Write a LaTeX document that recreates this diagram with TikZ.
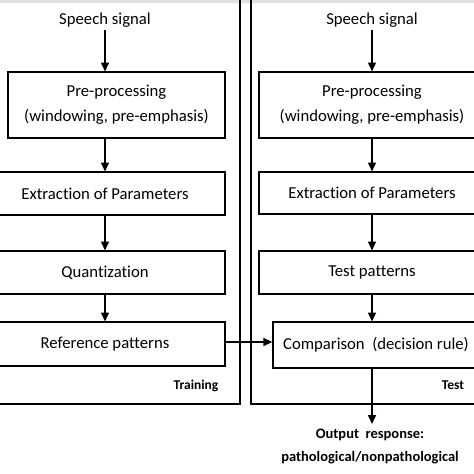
\documentclass[tikz,border=0pt]{standalone}
\usepackage{fontspec}
\setmainfont{Carlito}[RawFeature={-liga;-clig;-calt;-dlig}]
\usetikzlibrary{arrows.meta}
\begin{document}
\begin{tikzpicture}[x=1pt,y=-1pt,
  box/.style={draw,line width=1.3pt,inner sep=0pt,align=center,font=\fontsize{16.7}{25}\selectfont},
  lbl/.style={inner sep=0pt,align=center,font=\fontsize{16.7}{25}\selectfont},
  tag/.style={inner sep=0pt,font=\bfseries\fontsize{13.5}{16}\selectfont},
  frame/.style={draw,line width=1.3pt},
  arr/.style={line width=1.5pt,-{Triangle[length=9pt,width=8pt]}}]
\useasboundingbox (0,0) rectangle (474,474);
\clip (0,0) rectangle (474,474);
\fill[black!12] (0,0) rectangle (474,2.5);
% frames
\draw[frame] (-10,-10) -- (240,-10) -- (240,404) -- (-10,404);
\draw[frame] (484,-10) -- (251,-10) -- (251,404) -- (484,404);
% left column
\node[lbl] (s1) at (105,20) {Speech signal};
\node[box,minimum width=217pt,minimum height=66pt] (p1) at (116.5,105) {Pre-processing\\(windowing, pre-emphasis)};
\node[box,minimum width=240pt,minimum height=43pt] (e1) at (105,193.5) {Extraction of Parameters};
\node[box,minimum width=240pt,minimum height=43pt] (q1) at (105,272.5) {Quantization};
\node[box,minimum width=240pt,minimum height=44pt] (r1) at (105,344) {Reference patterns};
\node[tag] (t1) at (196,386) {Training};
% right column
\node[lbl] (s2) at (372,20) {Speech signal};
\node[box,minimum width=226pt,minimum height=66pt] (p2) at (372,105) {Pre-processing\\(windowing, pre-emphasis)};
\node[box,minimum width=226pt,minimum height=42pt] (e2) at (372,193) {Extraction of Parameters};
\node[box,minimum width=226pt,minimum height=43pt] (q2) at (372,272.5) {Test patterns};
\node[box,minimum width=206pt,minimum height=46pt] (c2) at (376,345) {Comparison~ (decision rule)};
\node[tag] (t2) at (453,385) {Test};
\node[lbl,font=\bfseries\fontsize{14.5}{23}\selectfont] (o2) at (370,446) {Output~ response:\\pathological/nonpathological};
% arrows
\draw[arr] (105,30) -- (105,71.5);
\draw[arr] (p1.south -| 105,0) -- (105,171.5);
\draw[arr] (105,215) -- (105,250.5);
\draw[arr] (105,294) -- (105,321.5);
\draw[arr] (372,30) -- (372,71.5);
\draw[arr] (372,138) -- (372,171.5);
\draw[arr] (372,214) -- (372,250.5);
\draw[arr] (372,294) -- (372,321.5);
\draw[arr] (r1.east |- 0,342) -- (c2.west |- 0,342);
\draw[arr] (372,368) -- (372,424);
\end{tikzpicture}
\end{document}
